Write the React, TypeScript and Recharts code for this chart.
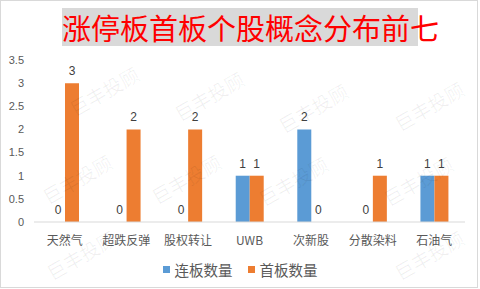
import React from 'react';
import { BarChart, Bar, XAxis, YAxis, LabelList } from 'recharts';

const categories = ['天然气', '超跌反弹', '股权转让', 'UWB', '次新股', '分散染料', '石油气'];
const lianbanCount = [0, 0, 0, 1, 2, 0, 1];
const shoubanCount = [3, 2, 2, 1, 0, 1, 1];
const yTicks = [0, 0.5, 1, 1.5, 2, 2.5, 3, 3.5];
const seriesNames = ['连板数量', '首板数量'];
const title = '涨停板首板个股概念分布前七';
const watermarkText = '巨丰投顾';

const BLUE = '#5B9BD5';
const ORANGE = '#ED7D31';

const data = categories.map((name, i) => ({
  name,
  lianban: lianbanCount[i],
  shouban: shoubanCount[i],
}));

const watermarkPos = [
  [103, 90], [208, 95], [312, 107], [428, 105],
  [76, 178], [185, 178], [292, 180], [417, 180],
  [80, 254], [428, 254],
];

const cjk = '"Noto Sans CJK SC", "Microsoft YaHei", sans-serif';
const latin = '"Liberation Sans", Arial, sans-serif';

const ValueLabel = (props: any) => {
  const { x, y, width, value } = props;
  if (value === undefined || value === null) return null;
  return (
    <text
      x={Number(x) + Number(width) / 2}
      y={Number(y) - 8}
      textAnchor="middle"
      fill="#404040"
      fontSize={12}
      fontFamily={latin}
    >
      {value}
    </text>
  );
};

export default function App() {
  return (
    <div
      style={{
        position: 'absolute',
        left: 0,
        top: 0,
        width: 478,
        height: 288,
        border: '1px solid #D9D9D9',
        boxSizing: 'border-box',
        background: '#fff',
        overflow: 'hidden',
      }}
    >
      <div
        style={{
          position: 'absolute',
          left: 61,
          top: 7,
          width: 356,
          height: 38,
          background: '#D9D9D9',
          color: '#FF0000',
          fontFamily: cjk,
          fontSize: 29,
          lineHeight: '38px',
          textAlign: 'center',
          whiteSpace: 'nowrap',
        }}
      >
        {title}
      </div>
      <div style={{ position: 'absolute', left: -1, top: -1 }}>
        <BarChart
          width={480}
          height={289}
          data={data}
          margin={{ top: 60, right: 15, bottom: 37, left: 0 }}
          barGap={0}
          barSize={14}
        >
          <XAxis
            dataKey="name"
            axisLine={{ stroke: '#D9D9D9' }}
            tickLine={false}
            tickSize={6}
            tickMargin={8}
            height={30}
            interval={0}
            tick={{ fill: '#595959', fontSize: 12, fontFamily: cjk }}
          />
          <YAxis
            domain={[0, 3.5]}
            ticks={yTicks}
            axisLine={false}
            tickLine={false}
            tickSize={6}
            tickMargin={4}
            width={34}
            tick={{ fill: '#595959', fontSize: 11, fontFamily: latin }}
          />
          <Bar dataKey="lianban" name={seriesNames[0]} fill={BLUE} minPointSize={0.01} isAnimationActive={false}>
            <LabelList dataKey="lianban" content={ValueLabel} />
          </Bar>
          <Bar dataKey="shouban" name={seriesNames[1]} fill={ORANGE} minPointSize={0.01} isAnimationActive={false}>
            <LabelList dataKey="shouban" content={ValueLabel} />
          </Bar>
        </BarChart>
      </div>
      <div
        style={{
          position: 'absolute',
          left: 0,
          top: 257,
          width: 478,
          height: 22,
          display: 'flex',
          justifyContent: 'center',
          alignItems: 'center',
          fontFamily: cjk,
          fontSize: 14.5,
          color: '#595959',
        }}
      >
        <span style={{ width: 7, height: 7, background: BLUE, display: 'inline-block', marginRight: 5 }} />
        <span style={{ marginRight: 15 }}>{seriesNames[0]}</span>
        <span style={{ width: 7, height: 7, background: ORANGE, display: 'inline-block', marginRight: 5 }} />
        <span>{seriesNames[1]}</span>
      </div>
      {watermarkPos.map(([x, y], i) => (
        <div
          key={i}
          style={{
            position: 'absolute',
            left: x - 40,
            top: y - 11,
            width: 80,
            height: 22,
            lineHeight: '22px',
            textAlign: 'center',
            transform: 'rotate(-30deg)',
            fontFamily: cjk,
            fontSize: 19,
            color: 'rgba(0,0,0,0.06)',
            pointerEvents: 'none',
            whiteSpace: 'nowrap',
          }}
        >
          {watermarkText}
        </div>
      ))}
    </div>
  );
}
